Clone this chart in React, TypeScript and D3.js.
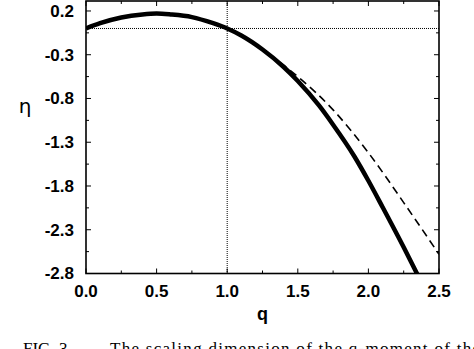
import React from "react";
import * as d3 from "d3";

const qSolid = [0, 0.1, 0.25, 0.4, 0.5, 0.6, 0.75, 0.9, 1.0, 1.1, 1.25, 1.4, 1.5, 1.65, 1.75, 1.9, 2.0, 2.1, 2.25, 2.4];
const etaSolid = [0.0, 0.06, 0.125, 0.16, 0.17, 0.16, 0.13, 0.06, 0.0, -0.08, -0.24, -0.44, -0.6, -0.88, -1.1, -1.46, -1.74, -2.04, -2.5, -2.98];

const qDashed = [0, 0.25, 0.5, 0.75, 1.0, 1.25, 1.4, 1.5, 1.75, 2.0, 2.25, 2.5];
const etaDashed = [0.0, 0.125, 0.17, 0.13, 0.0, -0.24, -0.42, -0.55, -0.93, -1.42, -1.99, -2.58];

const xMajor = [0, 0.5, 1.0, 1.5, 2.0, 2.5];
const xMinor = [0.25, 0.75, 1.25, 1.75, 2.25];
const yMajor = [0.2, -0.3, -0.8, -1.3, -1.8, -2.3, -2.8];
const yMinor = [-0.05, -0.55, -1.05, -1.55, -2.05, -2.55];

const W = 474;
const H = 349;
const L = 86, R = 439, T = 1, B = 273.5;

export default function App() {
  const x = d3.scaleLinear().domain([0, 2.5]).range([L, R]);
  const y = d3.scaleLinear().domain([-2.8, 0.314]).range([B, T]);

  const solid = d3
    .line<number>()
    .x((_, i) => x(qSolid[i]))
    .y((d) => y(d))
    .curve(d3.curveMonotoneX)(etaSolid) as string;
  const dashed = d3
    .line<number>()
    .x((_, i) => x(qDashed[i]))
    .y((d) => y(d))
    .curve(d3.curveMonotoneX)(etaDashed) as string;

  const tickFont = { fontFamily: "'Liberation Sans', Arial, sans-serif", fontWeight: 700, fontSize: 17 };
  const fmt = (v: number) => d3.format(".1f")(v).replace("\u2212", "-");
  const serif = "'Liberation Serif', 'Times New Roman', serif";

  return (
    <svg width={W} height={H} style={{ position: "absolute", left: 0, top: 0, display: "block", background: "#fff" }}>
      <defs>
        <clipPath id="plot">
          <rect x={L} y={T} width={R - L} height={B - T} />
        </clipPath>
      </defs>
      {/* reference lines */}
      <line x1={L} x2={R} y1={y(0)} y2={y(0)} stroke="#000" strokeWidth={1} strokeDasharray="1,1" />
      <line x1={x(1)} x2={x(1)} y1={T} y2={B} stroke="#000" strokeWidth={1} strokeDasharray="1,1" />
      <g clipPath="url(#plot)">
        <path d={dashed} fill="none" stroke="#000" strokeWidth={1.6} strokeDasharray="8,5" />
        <path d={solid} fill="none" stroke="#000" strokeWidth={4.5} />
      </g>
      {/* frame */}
      <rect x={L} y={T} width={R - L} height={B - T} fill="none" stroke="#000" strokeWidth={1.6} />
      {/* x ticks */}
      {xMajor.map((v) => (
        <g key={"xm" + v}>
          <line x1={x(v)} x2={x(v)} y1={B} y2={B - 5} stroke="#000" strokeWidth={1} />
          <line x1={x(v)} x2={x(v)} y1={T} y2={T + 5} stroke="#000" strokeWidth={1} />
          <text x={x(v)} y={297} textAnchor="middle" {...tickFont}>{fmt(v)}</text>
        </g>
      ))}
      {xMinor.map((v) => (
        <g key={"xn" + v}>
          <line x1={x(v)} x2={x(v)} y1={B} y2={B - 3} stroke="#000" strokeWidth={1} />
          <line x1={x(v)} x2={x(v)} y1={T} y2={T + 3} stroke="#000" strokeWidth={1} />
        </g>
      ))}
      {/* y ticks */}
      {yMajor.map((v) => (
        <g key={"ym" + v}>
          <line x1={L} x2={L + 5} y1={y(v)} y2={y(v)} stroke="#000" strokeWidth={1} />
          <line x1={R} x2={R - 5} y1={y(v)} y2={y(v)} stroke="#000" strokeWidth={1} />
          <text x={74} y={y(v)} dy="0.35em" textAnchor="end" {...tickFont}>{fmt(v)}</text>
        </g>
      ))}
      {yMinor.map((v) => (
        <g key={"yn" + v}>
          <line x1={L} x2={L + 3} y1={y(v)} y2={y(v)} stroke="#000" strokeWidth={1} />
          <line x1={R} x2={R - 3} y1={y(v)} y2={y(v)} stroke="#000" strokeWidth={1} />
        </g>
      ))}
      {/* axis labels */}
      <text x={(L + R) / 2} y={320} textAnchor="middle" {...tickFont} fontSize={18}>q</text>
      <text x={25} y={113} textAnchor="middle" fontFamily="'DejaVu Sans', sans-serif" fontSize={20}>η</text>
      {/* caption (cut off at the bottom edge, as in the reference) */}
      <text x={23} y={354} fontFamily={serif} fontSize={17}>FIG. 3.</text>
      <text x={82} y={354} fontFamily={serif} fontSize={17}>—</text>
      <text x={110} y={354} fontFamily={serif} fontSize={17} textLength={370} lengthAdjust="spacing">The scaling dimension of the q-moment of the</text>
    </svg>
  );
}
